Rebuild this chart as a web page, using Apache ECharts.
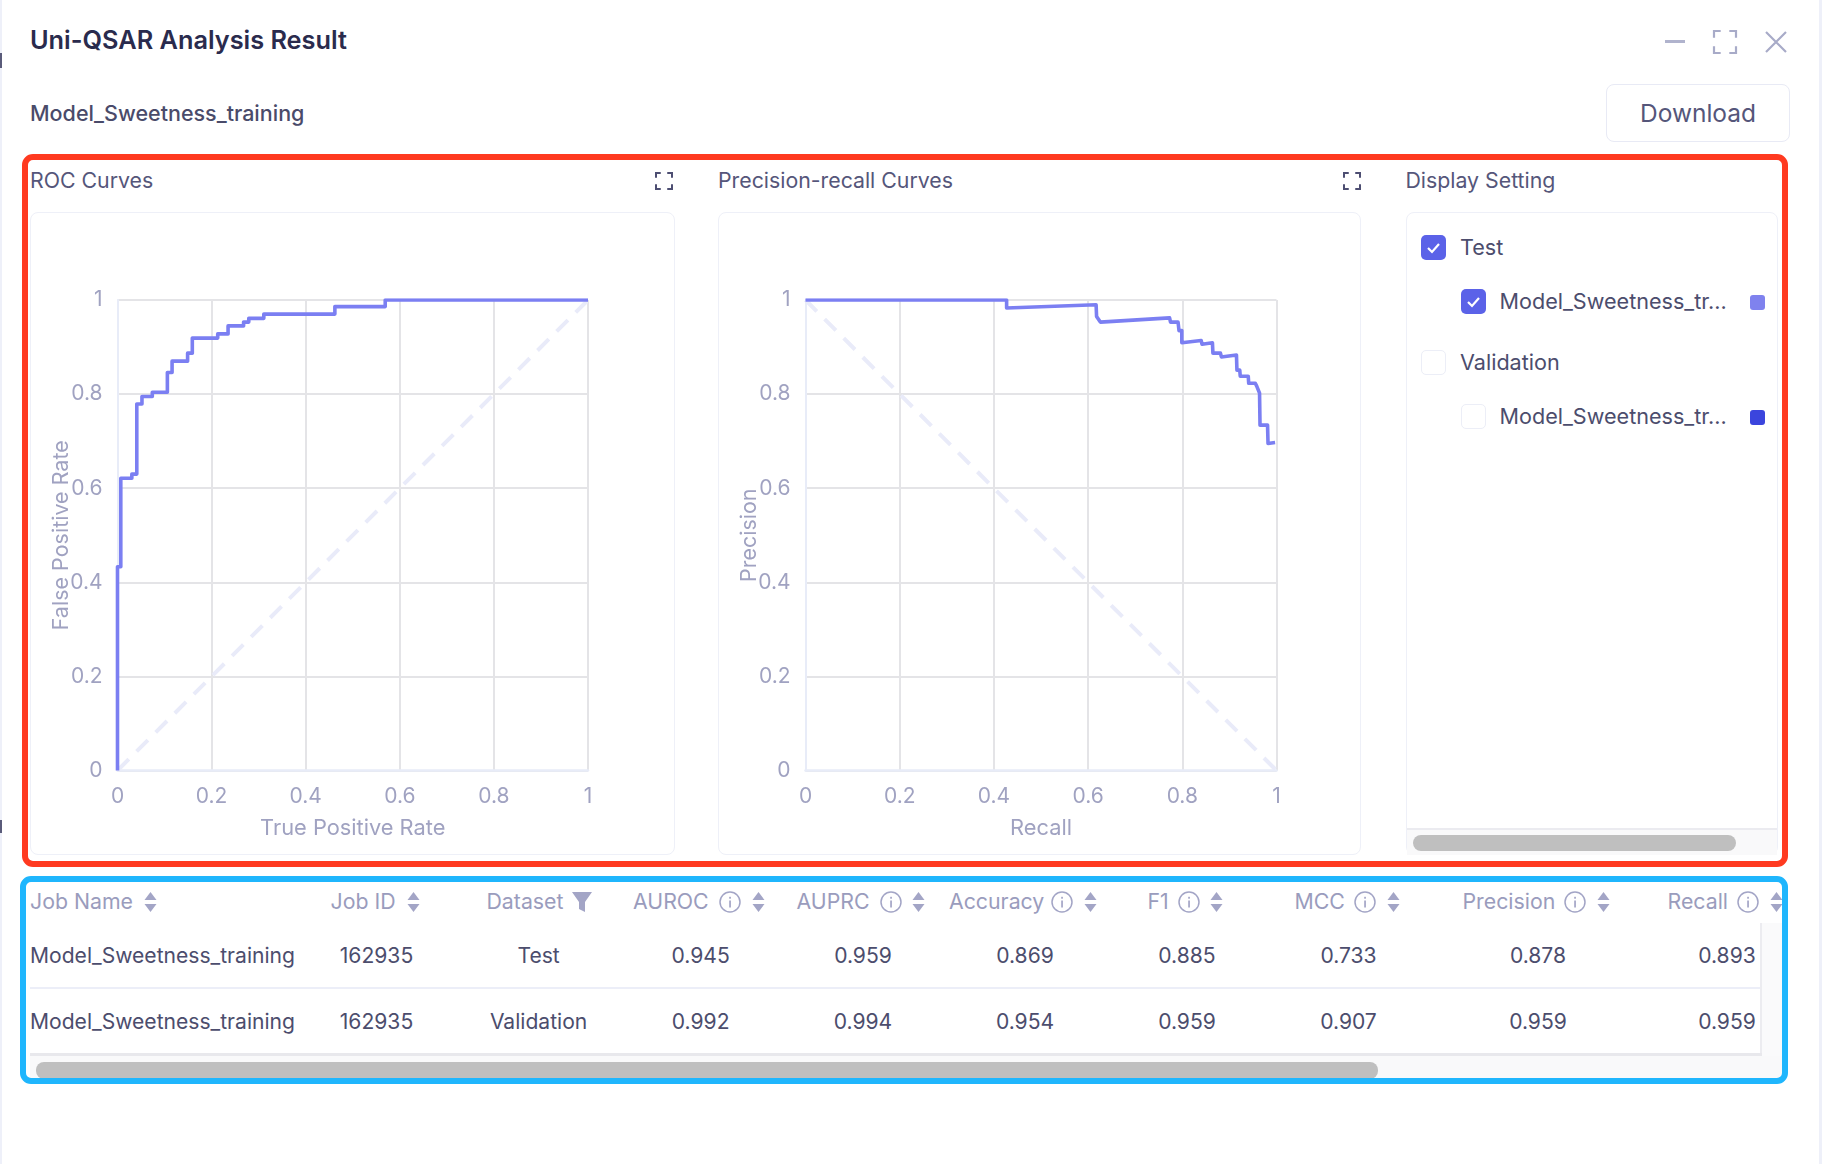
<!DOCTYPE html>
<html>
<head>
<meta charset="utf-8">
<script src="https://cdn.jsdelivr.net/npm/echarts@6/dist/echarts.min.js"></script>
<style>
html,body{margin:0;padding:0;background:#fff;width:1822px;height:1164px;overflow:hidden;font-family:Inter,"Noto Sans",sans-serif}
#page{position:relative;width:1822px;height:1164px;overflow:hidden}
#chart{position:absolute;left:0;top:0;width:1822px;height:1164px}
.t{position:absolute;white-space:nowrap;line-height:1;transform:translateY(-50%)}
.c{transform:translate(-50%,-50%)}
.b{position:absolute;box-sizing:border-box}
.card{border:1.5px solid #eef0f8;border-radius:8px;top:212px;height:643px}
.ico{position:absolute;overflow:visible}
</style>
</head>
<body>
<div id="page">
  <div class="b" style="left:0;top:0;width:2px;height:1164px;background:#eef0f9"></div>
  <div class="b" style="left:0;top:53px;width:1.5px;height:15px;background:#5a5b7a"></div>
  <div class="b" style="left:0;top:820px;width:1.5px;height:13px;background:#5a5b7a"></div>
  <div class="b" style="left:1819px;top:0;width:3px;height:1164px;background:#eef0f9"></div>
  <div class="b card" style="left:30px;width:645px"></div>
  <div class="b card" style="left:718px;width:643px"></div>
  <div class="b card" style="left:1406px;width:372px"></div>
  <div id="ui"></div>
  <div id="chart"></div>
  <div id="frames"></div>
</div>
<script>
// ---------- text ----------
var pageTitle = 'Uni-QSAR Analysis Result';
var jobTitle = 'Model_Sweetness_training';
var downloadLabel = 'Download';
var rocTitle = 'ROC Curves';
var prTitle = 'Precision-recall Curves';
var settingTitle = 'Display Setting';
var settingLabels = ['Test', 'Model_Sweetness_tr...', 'Validation', 'Model_Sweetness_tr...'];
var settingChecked = [true, true, false, false];
var settingSwatches = [null, '#7f82ee', null, '#3b45dd'];

// ---------- table ----------
var tableHeaders = ['Job Name', 'Job ID', 'Dataset', 'AUROC', 'AUPRC', 'Accuracy', 'F1', 'MCC', 'Precision', 'Recall'];
var rowJob = ['Model_Sweetness_training', 'Model_Sweetness_training'];
var rowId = ['162935', '162935'];
var rowDataset = ['Test', 'Validation'];
var rowAuroc = ['0.945', '0.992'];
var rowAuprc = ['0.959', '0.994'];
var rowAccuracy = ['0.869', '0.954'];
var rowF1 = ['0.885', '0.959'];
var rowMcc = ['0.733', '0.907'];
var rowPrecision = ['0.878', '0.959'];
var rowRecall = ['0.893', '0.959'];

// ---------- axis ticks ----------
var tickLabels = ['0', '0.2', '0.4', '0.6', '0.8', '1'];

// ---------- curves ----------
var rocX = [0,0,0.007,0.007,0.0085,0.0085,0.0305,0.0305,0.041,0.041,0.052,0.052,0.074,0.074,0.106,0.106,0.116,0.116,0.149,0.149,0.159,0.159,0.213,0.213,0.235,0.235,0.268,0.268,0.279,0.279,0.311,0.311,0.462,0.462,0.569,0.569,1];
var rocY = [0,0.433,0.433,0.621,0.621,0.621,0.621,0.630,0.630,0.779,0.779,0.795,0.795,0.804,0.804,0.846,0.846,0.870,0.870,0.887,0.887,0.919,0.919,0.928,0.928,0.945,0.945,0.953,0.953,0.961,0.961,0.970,0.970,0.986,0.986,1,1];
var prX = [0,0.427,0.427,0.617,0.618,0.626,0.773,0.775,0.791,0.793,0.799,0.799,0.840,0.842,0.864,0.865,0.881,0.883,0.915,0.916,0.922,0.923,0.940,0.941,0.955,0.958,0.964,0.965,0.981,0.982,0.997];
var prY = [1,1,0.983,0.990,0.965,0.953,0.962,0.953,0.953,0.935,0.935,0.909,0.914,0.906,0.909,0.887,0.887,0.879,0.883,0.851,0.851,0.838,0.838,0.823,0.823,0.817,0.802,0.734,0.734,0.695,0.697];
var rocDiagX = [0,1];
var rocDiagY = [0,1];
var prDiagX = [0,1];
var prDiagY = [1,0];

// ---------- layout (not data) ----------
var ui = document.getElementById('ui');
function txt(s, x, y, size, color, weight, center){
  var d = document.createElement('div');
  d.className = 't' + (center ? ' c' : '');
  d.textContent = s;
  d.style.cssText = 'left:'+x+'px;top:'+y+'px;font-size:'+size+'px;color:'+color+';font-weight:'+(weight||400);
  ui.appendChild(d);
}
function box(x,y,w,h,css){
  var d = document.createElement('div');
  d.className='b';
  d.style.cssText='left:'+x+'px;top:'+y+'px;width:'+w+'px;height:'+h+'px;'+(css||'');
  ui.appendChild(d); return d;
}
function svg(x,y,w,h,inner){
  var d=document.createElement('div');
  d.innerHTML='<svg class="ico" style="left:'+x+'px;top:'+y+'px" width="'+w+'" height="'+h+'" viewBox="0 0 '+w+' '+h+'">'+inner+'</svg>';
  ui.appendChild(d.firstChild);
}
function expandIcon(x,y,s,c,sw){
  var a=s*0.32;
  svg(x,y,s,s,'<path fill="none" stroke="'+c+'" stroke-width="'+sw+'" d="M1 '+a+'V1H'+a+'M'+(s-a)+' 1H'+(s-1)+'V'+a+'M'+(s-1)+' '+(s-a)+'V'+(s-1)+'H'+(s-a)+'M'+a+' '+(s-1)+'H1V'+(s-a)+'"/>');
}
function sortIcon(x){
  svg(x,892,13,20,'<path fill="#a3a5c6" d="M6.5 0L12.5 8H.5zM6.5 20L.5 12H12.5z"/>');
}
function infoIcon(x){
  svg(x,890,22,24,'<circle cx="11" cy="12" r="10" fill="none" stroke="#a3a5c6" stroke-width="1.5"/><rect x="10.2" y="10.5" width="1.7" height="7" fill="#a3a5c6"/><rect x="10.2" y="6.8" width="1.7" height="1.9" fill="#a3a5c6"/>');
}
var DARK='#2a2b4d', MID='#55567a', HEAD='#9a9cbd', CELL='#4c4d6d';
var F=21.3;

txt(pageTitle,30,40,25.3,DARK,600);
txt(jobTitle,30,113.5,21.5,'#4a4b6a',500);
box(1665,40,20,2.5,'background:#b0b3cd');
expandIcon(1713,30,24,'#a8abc8',2.2);
svg(1765,31,22,22,'<path stroke="#a8abc8" stroke-width="2.2" fill="none" d="M1 1L21 21M21 1L1 21"/>');
box(1606,84,184,58,'border:1.5px solid #e8eaf5;border-radius:8px');
txt(downloadLabel,1698,112.5,24.5,'#55567a',400,true);

txt(rocTitle,30,180.5,F,MID);
expandIcon(655,172,18,'#4d4e72',2);
txt(prTitle,718,180.5,F,MID);
expandIcon(1343,172,18,'#4d4e72',2);
txt(settingTitle,1405.5,180.5,F,MID);

// display-setting list
var chkX=[1421,1461,1421,1461], rowY=[235,289,350,404], lblX=[1460,1499.5,1460,1499.5];
settingLabels.forEach(function(l,i){
  var on=settingChecked[i];
  box(chkX[i],rowY[i],25,25,on?'background:#5b62e8;border-radius:5px':'border:1.5px solid #eceef7;border-radius:5px;background:#fff');
  if(on) svg(chkX[i],rowY[i],25,25,'<path d="M7 13l4 4 7-8" fill="none" stroke="#fff" stroke-width="2.2"/>');
  txt(l,lblX[i],rowY[i]+12.5,21.6,CELL);
  if(settingSwatches[i]) box(1750,rowY[i]+6,15,15,'border-radius:3px;background:'+settingSwatches[i]);
});
box(1407,828,370,27,'background:#f9f9fa;border-top:2px solid #ebebf0');
box(1413,835,323,16,'background:#bfbfbf;border-radius:8px');

// table
var hdrX=[30,330.5,486.5,633,796.5,949,1147.5,1294.5,1462.5,1667.5];
var infoX=[null,null,null,719,880,1051,1178,1354,1564,1737];
var sortX=[143.5,406.5,null,752,912,1084,1210,1387,1597,1770];
tableHeaders.forEach(function(h,i){
  txt(h,hdrX[i],902,F,HEAD);
  if(infoX[i]) infoIcon(infoX[i]);
  if(sortX[i]) sortIcon(sortX[i]);
});
svg(572,892,20,20,'<path fill="#a3a5c6" d="M0 0H20L13 10V20L7 17V10z"/>');
var rows=[rowJob,rowId,rowDataset,rowAuroc,rowAuprc,rowAccuracy,rowF1,rowMcc,rowPrecision,rowRecall];
var cellCx=[null,376.5,538.6,700.7,863,1025,1187,1348.5,1538,1727];
var rowCy=[956,1022];
rows.forEach(function(col,i){
  col.forEach(function(v,r){
    if(i===0) txt(v,30,rowCy[r],21.1,CELL);
    else txt(v,cellCx[i],rowCy[r],21.1,CELL,400,true);
  });
});
box(30,987,1731,1.5,'background:#eceef8');
box(1760,923,2.5,133,'background:#ececf0');
box(1762,923,22,133,'background:#fafafb');
box(30,1053,1732,3,'background:#e8e8ec');
box(30,1056,1754,23,'background:#f9f9fa');
box(36,1062,1342,17,'background:#bfbfbf;border-radius:8px');

// highlight frames
var frames=document.getElementById('frames');
frames.innerHTML='<div class="b" style="left:22px;top:154px;width:1766px;height:713px;border:6px solid #ff3a20;border-radius:11px"></div>'+
 '<div class="b" style="left:19.5px;top:876px;width:1768.5px;height:208px;border:6px solid #1fb6fd;border-radius:11px"></div>';

// ---------- chart ----------
function pairs(xs,ys){ return xs.map(function(x,i){ return [x,ys[i]]; }); }
function xAxisOf(name,idx){
  return {type:'value',gridIndex:idx,min:0,max:1,interval:0.2,name:name,nameLocation:'middle',nameGap:47,nameMoveOverlap:false,
    nameTextStyle:{color:'#a0a2c1',fontSize:21.8,fontFamily:'Inter'},
    axisLine:{show:true,lineStyle:{color:'#e8ecf8',width:2.5}},axisTick:{show:false},
    splitLine:{show:true,lineStyle:{color:'#e4e4e7',width:2}},
    axisLabel:{color:'#a0a2c1',fontSize:21,fontFamily:'Inter',margin:16,
      formatter:function(v){return tickLabels[Math.round(v*5)];}}};
}
function yAxisOf(name,idx){
  return {type:'value',gridIndex:idx,min:0,max:1,interval:0.2,name:name,nameLocation:'middle',nameGap:45,nameMoveOverlap:false,
    nameTextStyle:{color:'#a0a2c1',fontSize:21.5,fontFamily:'Inter'},
    axisLine:{show:true,lineStyle:{color:'#e8ecf8',width:2}},axisTick:{show:false},
    splitLine:{show:true,lineStyle:{color:'#e4e4e7',width:2}},
    axisLabel:{color:'#a0a2c1',fontSize:21,fontFamily:'Inter',margin:15,
      formatter:function(v){return tickLabels[Math.round(v*5)];}}};
}
function diag(xs,ys,idx){
  return {type:'line',xAxisIndex:idx,yAxisIndex:idx,data:pairs(xs,ys),showSymbol:false,silent:true,z:2,
    lineStyle:{color:'#e9ebf9',width:4,type:[16,11]}};
}
function curve(xs,ys,idx){
  return {type:'line',xAxisIndex:idx,yAxisIndex:idx,data:pairs(xs,ys),showSymbol:false,z:3,
    lineStyle:{color:'#7b7ff2',width:3.6,join:'round'}};
}
var chart=echarts.init(document.getElementById('chart'),null,{renderer:'canvas'});
chart.setOption({
  animation:false,
  backgroundColor:'transparent',
  grid:[
    {left:117.5,top:300,width:470.5,height:470.5},
    {left:805.5,top:300,width:471,height:470.5}
  ],
  xAxis:[xAxisOf('True Positive Rate',0),xAxisOf('Recall',1)],
  yAxis:[yAxisOf('False Positive Rate',0),yAxisOf('Precision',1)],
  series:[diag(rocDiagX,rocDiagY,0),curve(rocX,rocY,0),diag(prDiagX,prDiagY,1),curve(prX,prY,1)]
});
</script>
</body>
</html>
